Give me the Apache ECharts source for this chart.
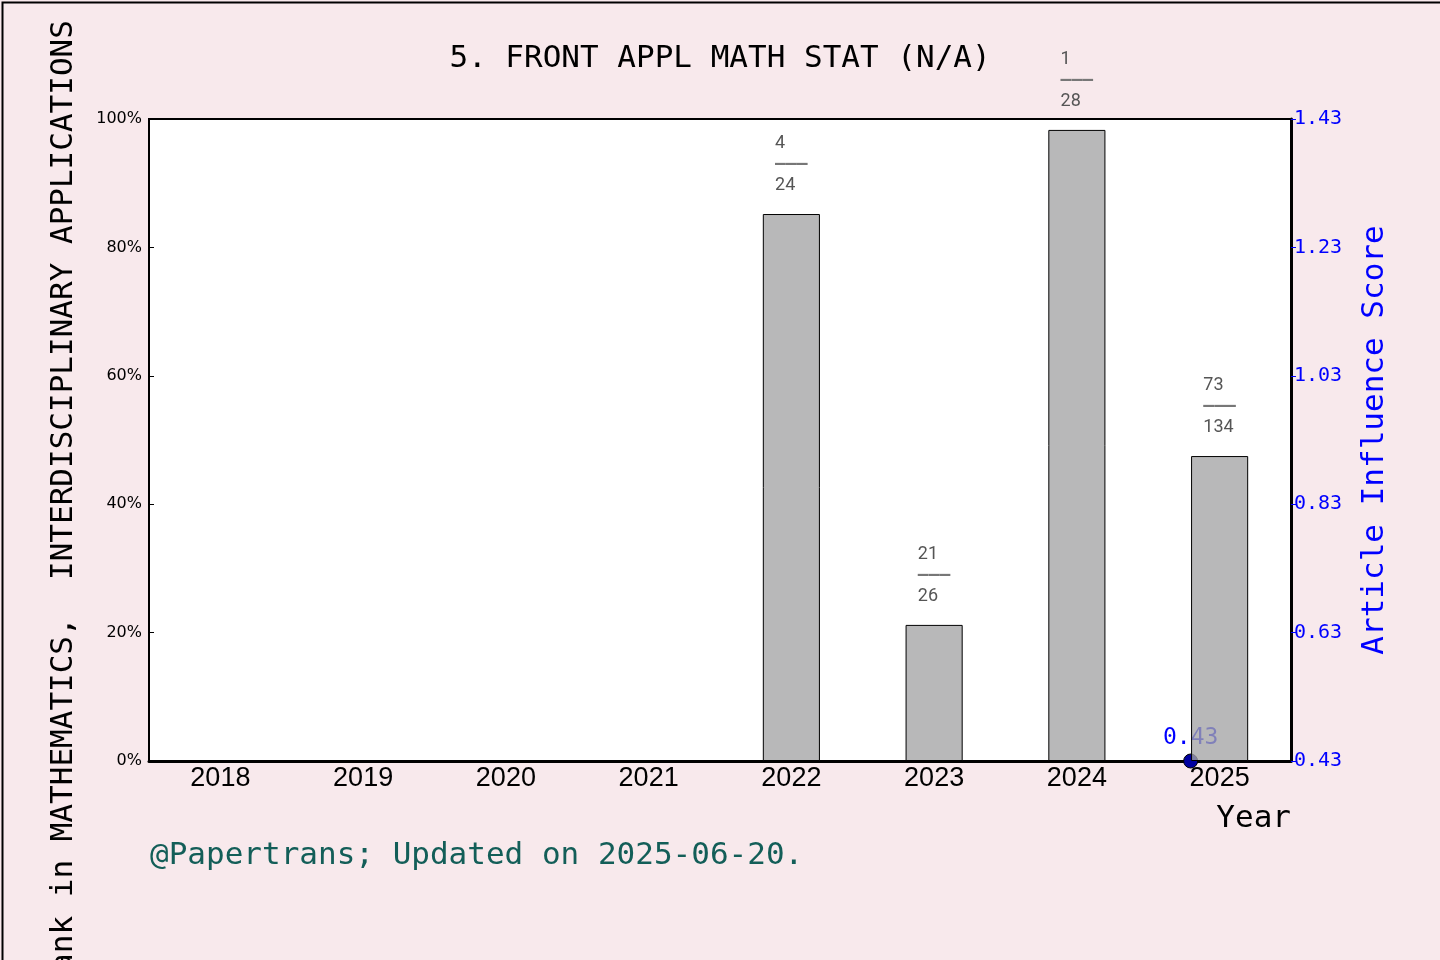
<!DOCTYPE html>
<html>
<head>
<meta charset="utf-8">
<script src="https://cdn.jsdelivr.net/npm/echarts@6/dist/echarts.min.js"></script>
<style>
  html, body { margin: 0; padding: 0; }
  #main { width: 1440px; height: 960px; }
</style>
</head>
<body>
<div id="main"></div>
<script>
// 数据
var years = ['2018', '2019', '2020', '2021', '2022', '2023', '2024', '2025'];
var rankPct = [null, null, null, null, 85.2, 21.2, 98.3, 47.5];
var rankNum = [null, null, null, null, 4, 21, 1, 73];
var rankTotal = [null, null, null, null, 24, 26, 28, 134];
var aisValues = [null, null, null, null, null, null, null, 0.43];

var mono = 'DejaVu Sans Mono';

var chart = echarts.init(document.getElementById('main'));

chart.setOption({
  backgroundColor: '#f8e9ec',
  animation: false,
  title: {
    text: '5. FRONT APPL MATH STAT (N/A)',
    left: 'center',
    top: 38,
    textStyle: { fontFamily: mono, fontSize: 31, fontWeight: 'normal', color: '#000' }
  },
  grid: {
    left: 149, right: 149, top: 119, bottom: 199,
    outerBoundsMode: 'none',
    containLabel: false,
    show: true,
    backgroundColor: '#fff',
    borderColor: '#000',
    borderWidth: 2
  },
  xAxis: {
    type: 'category',
    data: years,
    name: 'Year',
    nameLocation: 'end',
    nameGap: 0,
    nameTextStyle: {
      fontFamily: mono, fontSize: 31, color: '#000',
      align: 'right', verticalAlign: 'top', padding: [42, 0, 0, 0]
    },
    axisLine: { lineStyle: { color: '#000', width: 3 } },
    axisTick: { inside: true, length: 5, lineStyle: { color: '#000' } },
    axisLabel: { fontFamily: 'Liberation Sans', fontSize: 27, color: '#000', margin: 4 }
  },
  yAxis: [
    {
      type: 'value',
      min: 0, max: 100, interval: 20,
      name: 'Rank in MATHEMATICS,  INTERDISCIPLINARY APPLICATIONS (SCIE)',
      nameLocation: 'middle',
      nameRotate: 90,
      nameGap: 70,
      nameTextStyle: { fontFamily: mono, fontSize: 31, color: '#000' },
      axisLine: { show: true, lineStyle: { color: '#000', width: 2 } },
      axisTick: { show: true, inside: true, length: 5, lineStyle: { color: '#000' } },
      axisLabel: { formatter: '{value}%', fontFamily: 'DejaVu Sans', fontSize: 16, color: '#000', margin: 7 },
      splitLine: { show: false }
    },
    {
      type: 'value',
      position: 'right',
      min: 0.43, max: 1.43, interval: 0.2,
      name: 'Article Influence Score',
      nameLocation: 'middle',
      nameRotate: 90,
      nameGap: 68,
      nameTextStyle: { fontFamily: mono, fontSize: 31, color: '#0000ff' },
      axisLine: { show: true, lineStyle: { color: '#000', width: 3 } },
      axisTick: { show: true, inside: false, length: 5, lineStyle: { color: '#0000ff' } },
      axisLabel: {
        fontFamily: mono, fontSize: 20, color: '#0000ff', margin: 3,
        formatter: function (v) { return v.toFixed(2); }
      },
      splitLine: { show: false }
    }
  ],
  series: [
    {
      type: 'line',
      yAxisIndex: 1,
      z: 2,
      data: aisValues,
      symbol: 'circle',
      symbolSize: 14,
      symbolOffset: [-29, 0],
      itemStyle: { color: '#0000a0', borderColor: '#000', borderWidth: 1 },
      lineStyle: { color: '#0000a0' },
      label: {
        show: true,
        position: 'top',
        distance: 4,
        fontFamily: mono,
        fontSize: 23,
        color: '#0000ff',
        formatter: function (p) { return p.value.toFixed(2); }
      }
    },
    {
      type: 'bar',
      z: 3,
      data: rankPct,
      barWidth: '40%',
      itemStyle: { color: 'rgba(164,164,165,0.78)', borderColor: '#000', borderWidth: 1 },
      label: {
        show: true,
        position: 'top',
        distance: 18,
        color: '#555',
        formatter: function (p) {
          return '{n|' + rankNum[p.dataIndex] + '}\n{d|–––}\n{n|' + rankTotal[p.dataIndex] + '}';
        },
        rich: {
          n: { fontFamily: 'Roboto', fontSize: 18, lineHeight: 21, color: '#555', align: 'left' },
          d: { fontFamily: mono, fontSize: 18, fontWeight: 'bold', lineHeight: 21, color: '#777', align: 'left' }
        }
      }
    }
  ],
  graphic: [
    {
      type: 'text',
      left: 150,
      top: 840,
      style: {
        text: '@Papertrans; Updated on 2025-06-20.',
        font: '31px "DejaVu Sans Mono"',
        fill: '#135e58'
      }
    },
    {
      type: 'rect',
      left: 0, top: 0,
      shape: { width: 1439, height: 959 },
      style: { fill: 'none', stroke: '#000', lineWidth: 2 },
      silent: true
    }
  ]
});
</script>
</body>
</html>
